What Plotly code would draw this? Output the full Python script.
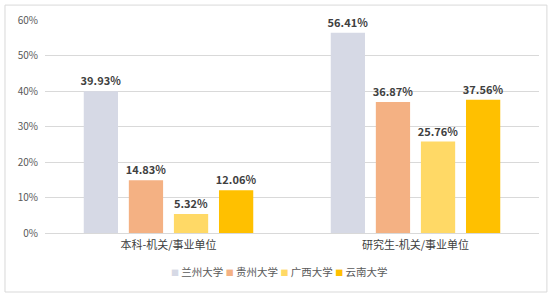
import plotly.graph_objects as go

categories = ["本科-机关/事业单位", "研究生-机关/事业单位"]
series_names = ["兰州大学", "贵州大学", "广西大学", "云南大学"]
values = [
    [0.3993, 0.5641],
    [0.1483, 0.3687],
    [0.0532, 0.2576],
    [0.1206, 0.3756],
]
colors = ["#d6d9e5", "#f4b183", "#ffd966", "#ffc000"]
y_ticks = [0, 0.1, 0.2, 0.3, 0.4, 0.5, 0.6]

font_family = "Noto Sans CJK SC, Noto Sans, sans-serif"

fig = go.Figure()
for name, vals, col in zip(series_names, values, colors):
    fig.add_trace(go.Bar(
        name=name, x=categories, y=vals, marker_color=col,
        marker_line_width=0, showlegend=False,
        texttemplate="<b>%{y:.2%}</b>", textposition="outside",
        textangle=0, constraintext="none",
        textfont=dict(size=11, color="#404040", family=font_family),
        cliponaxis=False,
    ))

# compact legend (small squares close to their labels) as one text line
legend_text = " ".join(
    f"<span style='color:{c};font-size:8px'>■</span> {n}"
    for n, c in zip(series_names, colors)
)

fig.update_layout(
    width=560, height=299,
    margin=dict(l=45, r=21, t=20, b=66),
    paper_bgcolor="white", plot_bgcolor="white",
    barmode="group", bargap=0.27, bargroupgap=0.24,
    font=dict(family=font_family, size=10, color="#595959"),
    showlegend=False,
    xaxis=dict(showgrid=False, showline=False, ticks="",
               tickfont=dict(size=11, color="#404040"), ticklabelstandoff=4),
    yaxis=dict(range=[0, 0.6], tickvals=y_ticks, tickformat=".0%",
               showgrid=True, gridcolor="#d9d9d9", gridwidth=1,
               zeroline=True, zerolinecolor="#d9d9d9", zerolinewidth=1,
               showline=False, ticks="", tickfont=dict(size=10, color="#595959"),
               ticklabelstandoff=6),
    annotations=[dict(text=legend_text, xref="paper", yref="paper",
                      x=0.475, y=-0.183, xanchor="center", yanchor="middle",
                      showarrow=False, font=dict(size=10.5, color="#595959"))],
    shapes=[dict(type="rect", xref="paper", yref="paper",
                 x0=-0.081, x1=1.016, y0=-0.277, y1=1.07,
                 line=dict(color="#d9d9d9", width=1), fillcolor="rgba(0,0,0,0)",
                 layer="below")],
)

fig.write_html("out.html")
